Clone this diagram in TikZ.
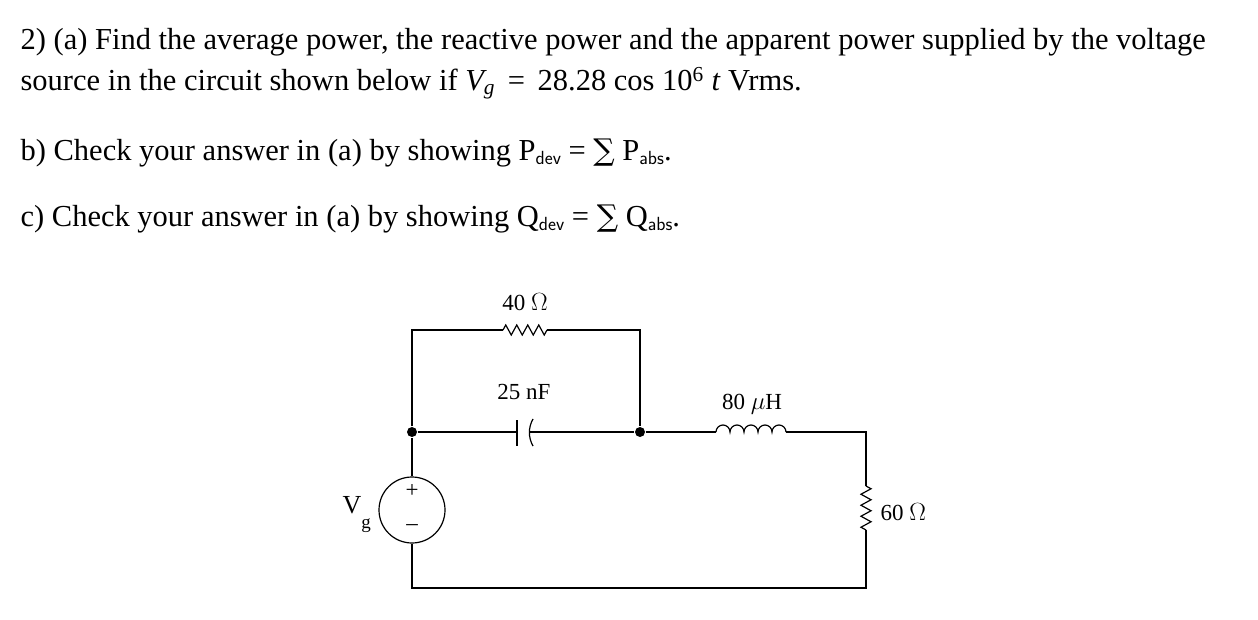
\documentclass[tikz,border=0pt]{standalone}
\usepackage{fontspec}
\setmainfont{Liberation Serif}
\newfontfamily\symf{DejaVu Serif}
\usetikzlibrary{decorations.pathmorphing}
\newcommand{\mysub}[1]{\raisebox{-4pt}{\fontsize{19}{20}\selectfont\sffamily #1}}
\newcommand{\mysum}{{\symf\fontsize{30}{30}\selectfont\char"2211}}
\begin{document}
\begin{tikzpicture}[x=1pt,y=-1pt,line width=1.2pt,
  txt/.style={anchor=base west,inner sep=0,font=\fontsize{30.5}{34}\selectfont},
  lbl/.style={inner sep=0,font=\fontsize{23}{26}\selectfont},
  dot/.style={circle,fill,inner sep=0,minimum size=10pt},
  zz/.style={decorate,decoration={zigzag,segment length=11pt,amplitude=5pt}}]
\useasboundingbox (0,0) rectangle (1258,620);
\fill[white] (0,0) rectangle (1258,620);
\node[txt] (l1) at (20,50) {2) (a) Find the average power, the reactive power and the apparent power supplied by the voltage};
\node[txt] (l2) at (20,91) {source in the circuit shown below if $\mathit{V_g}$ \,=\, 28.28 cos 10\textsuperscript{6} \textit{t} Vrms.};
\node[txt] (l3) at (20,161) {b) Check your answer in (a) by showing P\mysub{dev} = \mysum{} P\mysub{abs}.};
\node[txt] (l4) at (20,227) {c) Check your answer in (a) by showing Q\mysub{dev} = \mysum{} Q\mysub{abs}.};
\coordinate (tl) at (412,330);
\coordinate (tr) at (640,330);
\node[dot] (nl) at (412,432) {};
\node[dot] (nr) at (640,432) {};
\coordinate (rr) at (866,432);
\coordinate (br) at (866,588);
\coordinate (bl) at (412,588);
\node[circle,draw,minimum size=66pt,inner sep=0] (src) at (412,510) {};
\node[lbl] at (412,491) {+};
\node[lbl] at (412,528) {--};
\node[lbl,anchor=east,font=\fontsize{26}{28}\selectfont] at (362,505) {V};
\node[lbl,font=\fontsize{19}{20}\selectfont] at (366,526) {g};
\draw (src.north) -- (nl) -- (tl) -- (503,330);
\draw[zz] (503,330) -- (547,330);
\draw (547,330) -- (tr) -- (nr);
\node[lbl] at (525,302) {40 $\Omega$};
\draw (nl) -- (517,432);
\draw (517,420) -- (517,446);
\draw (533,419) arc[start angle=150,end angle=210,radius=27pt];
\draw (530,432) -- (nr);
\node[lbl] at (524,392) {25 nF};
\draw (nr) -- (716,432);
\draw (716,432) \foreach \i in {0,...,4} {arc[start angle=180,end angle=0,radius=7pt]};
\draw (786,432) -- (rr) -- (866,486);
\draw[zz] (866,486) -- (866,530);
\draw (866,530) -- (br) -- (bl) -- (src.south);
\node[lbl] at (752,404) {80 $\mu$H};
\node[lbl,anchor=west] at (880,512) {60 $\Omega$};
\end{tikzpicture}
\end{document}
